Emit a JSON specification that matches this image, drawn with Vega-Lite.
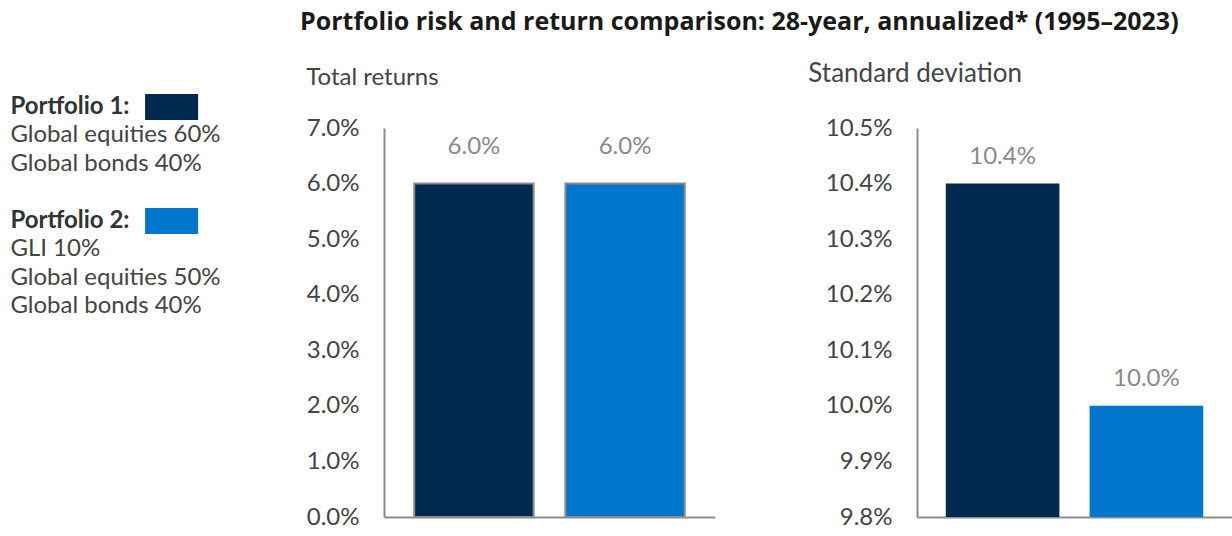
{
  "$schema": "https://vega.github.io/schema/vega-lite/v6.json",
  "background": "white",
  "padding": {"left": 0, "top": 10, "right": 0, "bottom": 0},
  "title": {
    "text": "Portfolio risk and return comparison: 28-year, annualized* (1995–2023)",
    "anchor": "start",
    "dx": 300,
    "font": "Open Sans",
    "fontSize": 25,
    "fontWeight": "bold",
    "color": "#1a1a1a",
    "offset": 26
  },
  "datasets": {
    "legend": [
      {"text": "Portfolio 1:", "line": 1, "kind": "head", "portfolio": "Portfolio 1"},
      {"text": "Global equities 60%", "line": 2, "kind": "item"},
      {"text": "Global bonds 40%", "line": 3, "kind": "item"},
      {"text": "Portfolio 2:", "line": 5, "kind": "head", "portfolio": "Portfolio 2"},
      {"text": "GLI 10%", "line": 6, "kind": "item"},
      {"text": "Global equities 50%", "line": 7, "kind": "item"},
      {"text": "Global bonds 40%", "line": 8, "kind": "item"}
    ],
    "returns": [
      {"portfolio": "Portfolio 1", "value": 0.060},
      {"portfolio": "Portfolio 2", "value": 0.060}
    ],
    "stdev": [
      {"portfolio": "Portfolio 1", "value": 0.104},
      {"portfolio": "Portfolio 2", "value": 0.100}
    ]
  },
  "spacing": 46,
  "hconcat": [
    {
      "width": 260,
      "height": 389,
      "data": {"name": "legend"},
      "encoding": {
        "y": {"field": "line", "type": "quantitative", "scale": {"domain": [1.737, 15.386], "reverse": true, "nice": false, "zero": false}, "axis": null}
      },
      "layer": [
        {
          "transform": [{"filter": "datum.kind === 'head'"}],
          "mark": {"type": "text", "align": "left", "baseline": "middle", "font": "Lato", "fontSize": 24, "fontWeight": "bold", "color": "#333333"},
          "encoding": {
            "x": {"datum": 0.04, "type": "quantitative", "scale": {"domain": [0, 1], "nice": false, "zero": false}, "axis": null},
            "text": {"field": "text"}
          }
        },
        {
          "transform": [{"filter": "datum.kind === 'item'"}],
          "mark": {"type": "text", "align": "left", "baseline": "middle", "font": "Lato", "fontSize": 24, "fontWeight": "normal", "color": "#444444"},
          "encoding": {
            "x": {"datum": 0.04, "type": "quantitative"},
            "text": {"field": "text"}
          }
        },
        {
          "transform": [{"filter": "datum.kind === 'head'"}],
          "mark": {"type": "point", "filled": true, "shape": "M-1,-0.49H1V0.49H-1Z", "size": 2809, "opacity": 1, "strokeWidth": 0},
          "encoding": {
            "x": {"datum": 0.66, "type": "quantitative"},
            "color": {"field": "portfolio", "type": "nominal", "scale": {"domain": ["Portfolio 1", "Portfolio 2"], "range": ["#00294f", "#0076cf"]}, "legend": null}
          }
        }
      ]
    },
    {
      "spacing": 93,
      "hconcat": [
        {
          "width": 331,
          "height": 389,
          "title": {"text": "Total returns", "anchor": "start", "frame": "bounds", "font": "Lato", "fontSize": 24, "fontWeight": "normal", "color": "#444444", "offset": 26},
          "data": {"name": "returns"},
          "encoding": {
            "x": {"field": "portfolio", "type": "nominal", "scale": {"paddingInner": 0.21, "paddingOuter": 0.2}, "axis": {"labels": false, "ticks": false, "title": null, "domain": true, "domainColor": "#8c8c8c", "domainWidth": 2}},
            "y": {"field": "value", "type": "quantitative", "scale": {"domain": [0, 0.07], "nice": false, "zero": true}, "axis": {"values": [0, 0.01, 0.02, 0.03, 0.04, 0.05, 0.06, 0.07], "format": ".1%", "title": null, "grid": false, "ticks": false, "domain": true, "domainColor": "#8c8c8c", "domainWidth": 2, "labelPadding": 25, "labelFont": "Lato", "labelFontSize": 24, "labelColor": "#444444"}}
          },
          "layer": [
            {
              "mark": {"type": "bar", "stroke": "#8c8c8c", "strokeWidth": 2},
              "encoding": {
                "color": {"field": "portfolio", "type": "nominal", "scale": {"domain": ["Portfolio 1", "Portfolio 2"], "range": ["#00294f", "#0076cf"]}, "legend": null}
              }
            },
            {
              "mark": {"type": "text", "baseline": "bottom", "dy": -25, "font": "Lato", "fontSize": 24, "color": "#8a8a8a"},
              "encoding": {"text": {"field": "value", "type": "quantitative", "format": ".1%"}}
            }
          ]
        },
        {
          "width": 315,
          "height": 389,
          "title": {"text": "Standard deviation", "anchor": "start", "frame": "bounds", "dx": -17, "font": "Lato", "fontSize": 26, "fontWeight": "normal", "color": "#444444", "offset": 29},
          "data": {"name": "stdev"},
          "encoding": {
            "x": {"field": "portfolio", "type": "nominal", "scale": {"paddingInner": 0.21, "paddingOuter": 0.2}, "axis": {"labels": false, "ticks": false, "title": null, "domain": true, "domainColor": "#8c8c8c", "domainWidth": 2}},
            "y": {"field": "value", "type": "quantitative", "scale": {"domain": [0.098, 0.105], "nice": false, "zero": false}, "axis": {"values": [0.098, 0.099, 0.1, 0.101, 0.102, 0.103, 0.104, 0.105], "format": ".1%", "title": null, "grid": false, "ticks": false, "domain": true, "domainColor": "#8c8c8c", "domainWidth": 2, "labelPadding": 25, "labelFont": "Lato", "labelFontSize": 24, "labelColor": "#444444"}}
          },
          "layer": [
            {
              "mark": {"type": "bar"},
              "encoding": {
                "y2": {"datum": 0.098},
                "color": {"field": "portfolio", "type": "nominal", "scale": {"domain": ["Portfolio 1", "Portfolio 2"], "range": ["#00294f", "#0076cf"]}, "legend": null}
              }
            },
            {
              "mark": {"type": "text", "baseline": "bottom", "dy": -15, "font": "Lato", "fontSize": 24, "color": "#8a8a8a"},
              "encoding": {"text": {"field": "value", "type": "quantitative", "format": ".1%"}}
            }
          ]
        }
      ]
    }
  ],
  "config": {
    "view": {"stroke": null}
  }
}
